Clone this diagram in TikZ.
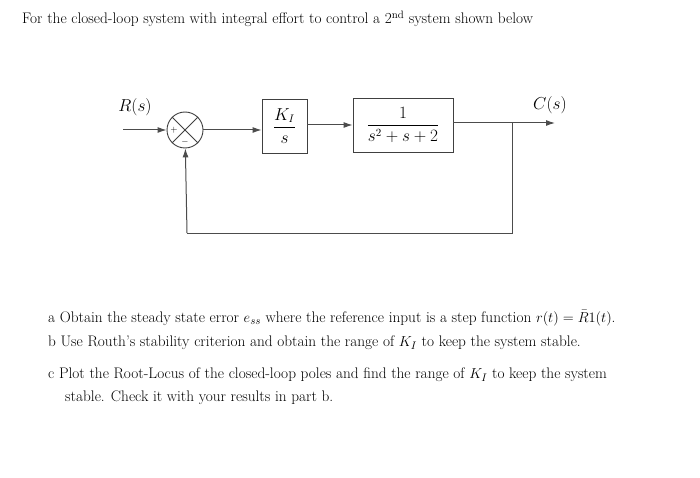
\documentclass[tikz,border=0pt]{standalone}
\usepackage{amsmath}
\usetikzlibrary{arrows.meta}
\begin{document}
\begin{tikzpicture}[x=1pt,y=-1pt,
  blk/.style={draw=black!75,line width=0.9pt,minimum width=#1,minimum height=54pt,inner sep=0pt,font=\fontsize{16}{18}\selectfont},
  sig/.style={draw=black!70,line width=1pt,-{Latex[length=9pt,width=6pt]}},
  ln/.style={draw=black!70,line width=1pt},
  txt/.style={anchor=west,inner sep=0pt,font=\fontsize{15.3}{18}\selectfont}]
\useasboundingbox (0,0) rectangle (700,478);
\fill[white] (0,0) rectangle (700,478);
\node[txt] (t0) at (22,19) {For the closed-loop system with integral effort to control a 2\textsuperscript{nd} system shown below};
\node[draw=black!75,line width=0.9pt,circle,minimum size=36pt,inner sep=0pt] (sum) at (185,130) {};
\draw[black!75,line width=0.9pt] (sum.north west)--(sum.south east) (sum.north east)--(sum.south west);
\node[font=\small] (pl) at (174,130) {$+$};
\node[font=\small] (mi) at (185,142) {$-$};
\node[blk=45pt] (k) at (284.5,126) {$\dfrac{K_I}{s}$};
\node[blk=100pt] (g) at (403,125) {$\dfrac{1}{s^2+s+2}$};
\coordinate (in) at (123,130);
\coordinate (out) at (555,123);
\coordinate (br) at (512,123);
\coordinate (fb1) at (512,233);
\coordinate (fb2) at (187,233);
\node[font=\fontsize{16}{18}\selectfont] (R) at (135,107) {$R(s)$};
\node[font=\fontsize{16}{18}\selectfont] (C) at (550,105) {$C(s)$};
\draw[sig] (in)--(sum);
\draw[sig] (sum)--(k.west|-sum);
\draw[sig] (k.east|-g)--(g);
\draw[sig] (g.east|-out)--(out);
\draw[ln] (br)--(fb1)--(fb2);
\draw[sig] (fb2)--(sum);
\node[txt] (a) at (48,318) {a Obtain the steady state error $e_{ss}$ where the reference input is a step function $r(t)=\bar R1(t)$.};
\node[txt] (b) at (48,343) {b Use Routh's stability criterion and obtain the range of $K_I$ to keep the system stable.};
\node[txt] (c) at (48,375) {c Plot the Root-Locus of the closed-loop poles and find the range of $K_I$ to keep the system};
\node[txt] (c2) at (65,398) {stable. Check it with your results in part b.};
\end{tikzpicture}
\end{document}
